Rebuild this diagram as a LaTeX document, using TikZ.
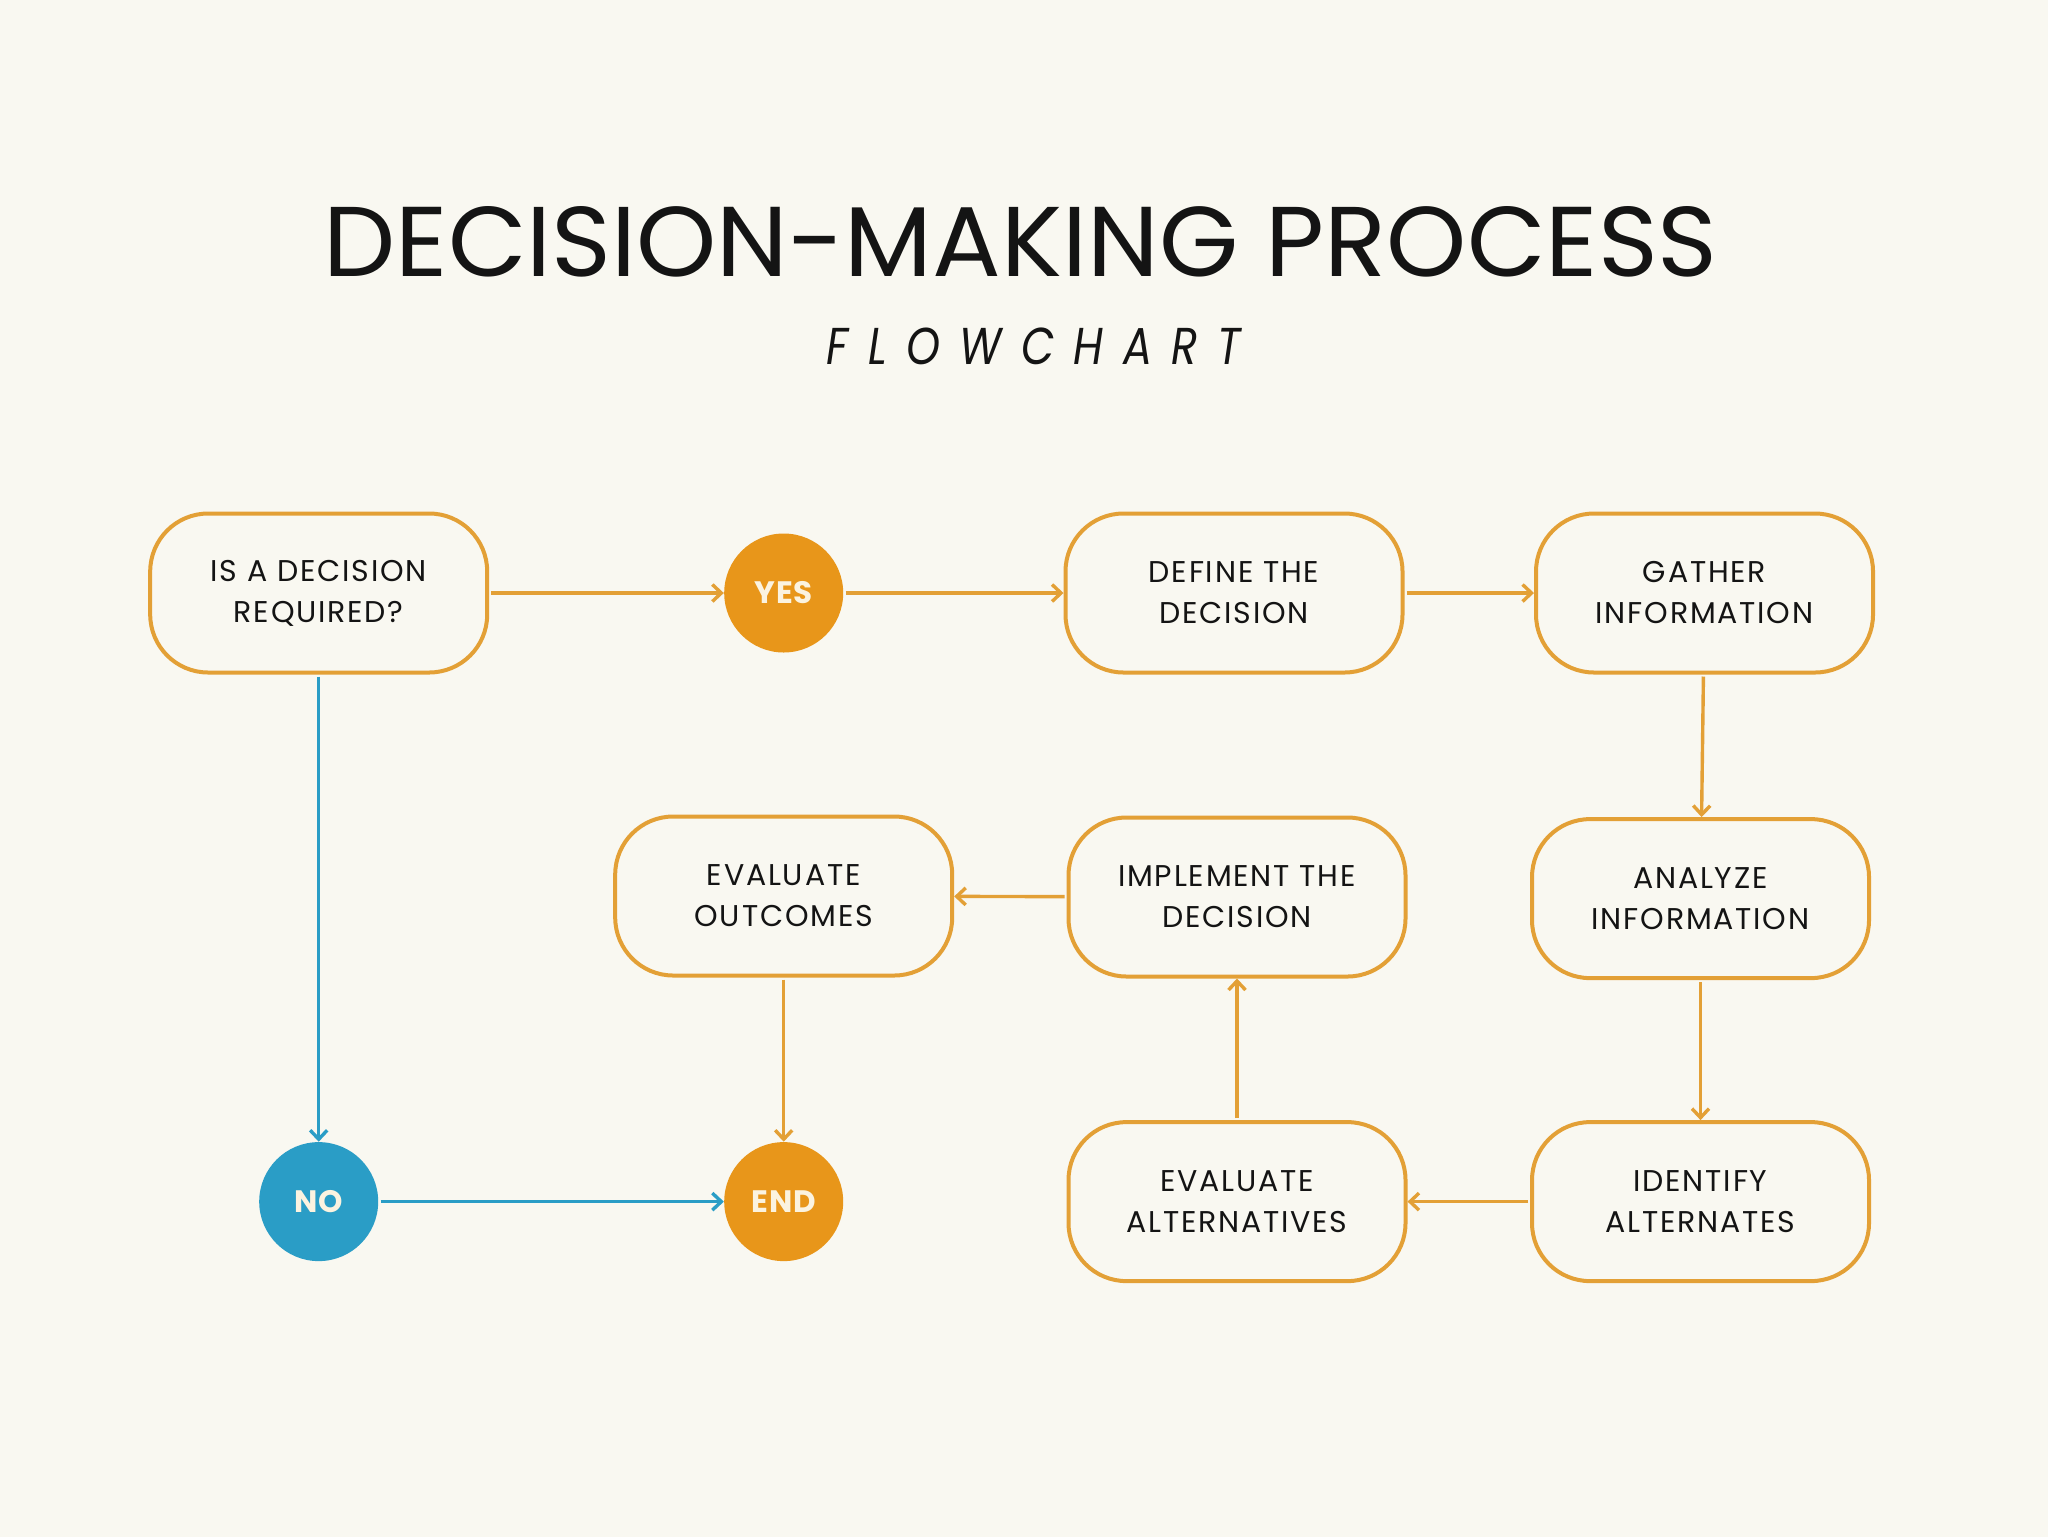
\documentclass[tikz,border=0pt]{standalone}
\usepackage{fontspec}
\setmainfont{Poppins}
\usetikzlibrary{arrows.meta}
\definecolor{bg}{HTML}{F9F8F1}
\definecolor{org}{HTML}{E8961A}
\definecolor{orgline}{HTML}{E3A036}
\definecolor{blu}{HTML}{2A9DC6}
\definecolor{txt}{HTML}{141414}
\definecolor{circtxt}{HTML}{FBF3E0}
\begin{document}
\begin{tikzpicture}[x=0.5pt,y=-0.5pt,
  stepbox/.style={draw=orgline, line width=2pt, rounded corners=29pt,
    minimum width=168.5pt, minimum height=79.5pt, align=center,
    font=\addfontfeatures{LetterSpace=6}\fontsize{15}{20.5}\selectfont, text=txt, inner sep=0pt, fill=bg},
  circ/.style={circle, minimum size=59.5pt, inner sep=0pt,
    font=\bfseries\addfontfeatures{LetterSpace=3}\fontsize{15.5}{16}\selectfont, text=circtxt},
  flow/.style={draw=orgline, line width=1.7pt,
    -{Straight Barb[length=4.5pt,width=8.5pt]}, shorten <=1pt},
  noflow/.style={flow, draw=blu}
]
\fill[bg] (0,0) rectangle (2048,1537);
\useasboundingbox (0,0) rectangle (2048,1537);

\node[text=txt] (title) at (1020.7,241.6)
  {\resizebox{697pt}{35pt}{DECISION-MAKING PROCESS}};
\node[text=txt] (sub) at (1033.8,346)
  {\resizebox{207pt}{18.3pt}{\addfontfeatures{LetterSpace=45}\itshape FLOWCHART}};

\node[stepbox] (req) at (318.7,593) {IS A DECISION\\REQUIRED?};
\node[circ, fill=org] (yes) at (783.7,593) {YES};
\node[stepbox] (def) at (1234,593) {DEFINE THE\\DECISION};
\node[stepbox] (gat) at (1704.5,593) {GATHER\\INFORMATION};
\node[stepbox] (ana) at (1700.5,898.6) {ANALYZE\\INFORMATION};
\node[stepbox] (imp) at (1237,897) {IMPLEMENT THE\\DECISION};
\node[stepbox] (evo) at (783.7,896) {EVALUATE\\OUTCOMES};
\node[stepbox] (eva) at (1237,1201.6) {EVALUATE\\ALTERNATIVES};
\node[stepbox] (ide) at (1700.5,1201.6) {IDENTIFY\\ALTERNATES};
\node[circ, fill=blu] (no) at (318.7,1201.6) {NO};
\node[circ, fill=org] (end) at (783.7,1201.6) {END};

\draw[flow] (req) -- (yes);
\draw[flow] (yes) -- (def);
\draw[flow] (def) -- (gat);
\draw[flow] (gat) -- (ana);
\draw[flow] (ana) -- (ide);
\draw[flow] (ide) -- (eva);
\draw[flow] (eva) -- (imp);
\draw[flow] (imp) -- (evo);
\draw[flow] (evo) -- (end);
\draw[noflow] (req) -- (no);
\draw[noflow] (no) -- (end);
\end{tikzpicture}
\end{document}
